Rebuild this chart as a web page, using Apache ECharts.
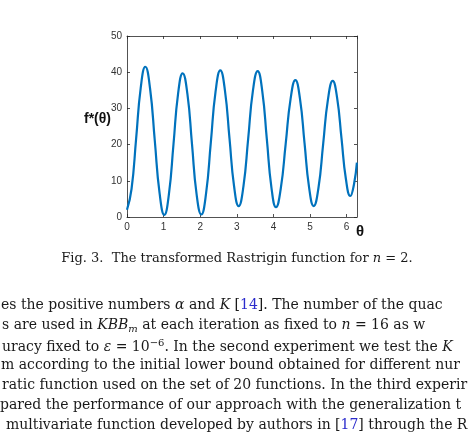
<!DOCTYPE html>
<html><head><meta charset="utf-8">
<script src="https://cdn.jsdelivr.net/npm/echarts@6/dist/echarts.min.js"></script>
<style>html,body{margin:0;padding:0;background:#fff}#c{width:474px;height:436px}</style>
</head><body><div id="c"></div>
<script>
const thetaValues = [0,0.125,0.25,0.375,0.5,0.63,0.76,0.89,1.02,1.145,1.27,1.395,1.52,1.65,1.775,1.9,2.03,2.16,2.29,2.42,2.55,2.675,2.8,2.925,3.05,3.18,3.31,3.44,3.57,3.695,3.82,3.945,4.07,4.2,4.335,4.47,4.6,4.725,4.85,4.975,5.1,5.23,5.36,5.49,5.62,5.74,5.86,5.98,6.1,6.2,6.28];
const fValues = [2,7.8,21.7,35.7,41.5,35.5,21,6.6,0.6,6.3,20.1,34,39.7,34,20.2,6.4,0.7,6.5,20.6,34.7,40.5,35,21.7,8.5,3,8.4,21.6,34.9,40.3,34.8,21.5,8.2,2.7,7.8,20.2,32.7,37.8,32.7,20.4,8.1,3,8,20.3,32.5,37.6,32.9,21.7,10.5,5.8,9,15];
const xTicks = [0,1,2,3,4,5,6];
const yTicks = [0,10,20,30,40,50];
const data = thetaValues.map((t,i)=>[t,fValues[i]]);
const ch = echarts.init(document.getElementById('c'));
const ax = {color:'#333',fontFamily:'Liberation Sans',fontSize:10,margin:5};
const line = {onZero:false,lineStyle:{color:'#262626',width:0.8}};
const tk = {inside:true,length:3,lineStyle:{color:'#262626',width:0.8}};
const serif = 'DejaVu Serif';
const body = [
 [1,307,[['es the positive numbers ',''],['α','i'],[' and ',''],['K','i'],[' [',''],['14','b'],[']. The number of the quac','']]],
 [2,327,[['s are used in ',''],['KBB','i'],['m','s'],[' at each iteration as fixed to ',''],['n','i'],[' = 16 as w','']]],
 [2,347,[['uracy fixed to ',''],['ε','i'],[' = 10',''],['−6','p'],['. In the second experiment we test the ',''],['K','i']]],
 [1,367,[['m according to the initial lower bound obtained for different nur','']]],
 [2,387,[['ratic function used on the set of 20 functions. In the third experir','']]],
 [0,407,[['pared the performance of our approach with the generalization t','']]],
 [6,427,[['multivariate function developed by authors in [',''],['17','b'],['] through the R','']]]
];
const fs = 14;
const rich = {n:{fontFamily:serif,fontSize:fs,fill:'#1a1a1a'},i:{fontFamily:serif,fontSize:fs,fontStyle:'italic',fill:'#1a1a1a'},b:{fontFamily:serif,fontSize:fs,fill:'#2a2acc'},s:{fontFamily:serif,fontSize:10,fontStyle:'italic',fill:'#1a1a1a',padding:[8,0,0,0]},p:{fontFamily:serif,fontSize:10,fill:'#1a1a1a',padding:[0,0,8,0]},
 c:{fontFamily:serif,fontSize:13,fill:'#1a1a1a'},ci:{fontFamily:serif,fontSize:13,fontStyle:'italic',fill:'#1a1a1a'}};
const graphics = body.map(([x,y,parts])=>({type:'text',left:x,top:y-9,style:{text:parts.map(([t,s])=>'{'+(s||'n')+'|'+t+'}').join(''),rich:rich}}));
graphics.push({type:'text',left:'center',top:252,style:{rich:rich,text:'{c|Fig. 3.  The transformed Rastrigin function for }{ci|n}{c| = 2.}'}});
graphics.push({type:'text',left:84,top:112,style:{text:'f*(θ)',font:'bold 14px Liberation Sans',fill:'#111'}});
graphics.push({type:'text',left:356,top:224,style:{text:'θ',font:'bold 15px Liberation Sans',fill:'#111'}});
ch.setOption({
 animation:false,
 grid:{left:127,top:36,width:230,height:181},
 xAxis:[{type:'value',min:0,max:6.2832,interval:1,axisLine:line,axisTick:tk,splitLine:{show:false},axisLabel:Object.assign({formatter:v=>xTicks.includes(v)?String(v):'',showMaxLabel:false},ax)},
        {type:'value',position:'top',min:0,max:6.2832,interval:1,axisLine:line,axisTick:tk,splitLine:{show:false},axisLabel:{show:false}}],
 yAxis:[{type:'value',min:0,max:50,interval:10,axisLine:Object.assign({show:true},line),axisTick:Object.assign({show:true},tk),splitLine:{show:false},axisLabel:Object.assign({formatter:v=>yTicks.includes(v)?String(v):''},ax)},
        {type:'value',position:'right',min:0,max:50,interval:10,axisLine:Object.assign({show:true},line),axisTick:Object.assign({show:true},tk),splitLine:{show:false},axisLabel:{show:false}}],
 series:[{type:'line',data:data,smooth:0.5,showSymbol:false,lineStyle:{color:'#0072BD',width:2.2}}],
 graphic:graphics
});
</script></body></html>
